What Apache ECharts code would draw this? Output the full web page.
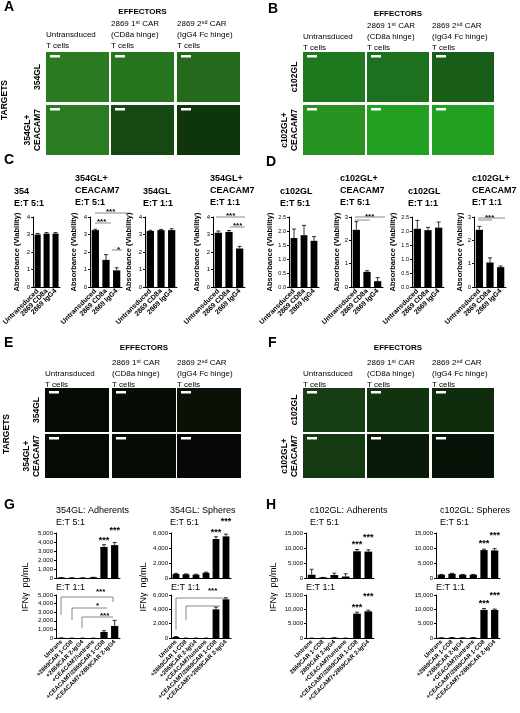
<!DOCTYPE html>
<html><head><meta charset="utf-8">
<script src="https://cdn.jsdelivr.net/npm/echarts@6/dist/echarts.min.js"></script>
<style>html,body{margin:0;background:#fff}#c{width:520px;height:713px}</style>
</head><body><div id="c"></div>
<script>
// 数据
const viabCats = ['Untransduced', '2869 CD8a', '2869 IgG4'];
const c1 = [3.0, 3.05, 3.05], c1e = [0.06, 0.06, 0.06];
const c2 = [3.25, 1.55, 0.95], c2e = [0.05, 0.3, 0.15];
const c3 = [3.2, 3.25, 3.25], c3e = [0.04, 0.04, 0.08];
const c4 = [3.1, 3.15, 2.2], c4e = [0.1, 0.08, 0.12];
const d1 = [1.75, 1.85, 1.65], d1e = [0.32, 0.35, 0.15];
const d2 = [2.45, 0.65, 0.25], d2e = [0.35, 0.05, 0.15];
const d3 = [2.08, 2.03, 2.12], d3e = [0.3, 0.1, 0.2];
const d4 = [2.45, 1.05, 0.85], d4e = [0.15, 0.2, 0.05];

const ifnCatsG = ['Untrans', '+2869CAR 1-CD8', '+2869CAR 2-IgG4', '+CEACAM7/untrans', '+CEACAM7/2869CAR 1-CD8', '+CEACAM7+2869CAR 2-IgG4'];
const ifnCatsH = ['Untrans', '2869CAR 1-CD8', '2869CAR 2-IgG4', '+CEACAM7/untrans', '+CEACAM7/2869CAR 1-CD8', '+CEACAM7+2869CAR 2-IgG4'];
const g1Top = [50, 30, 30, 80, 3450, 3650], g1TopE = [0, 0, 0, 0, 250, 300];
const g1Bot = [20, 0, 0, 0, 700, 1400], g1BotE = [0, 0, 0, 0, 150, 650];
const g2Top = [550, 500, 450, 700, 5200, 5550], g2TopE = [80, 50, 50, 80, 300, 300];
const g2Bot = [150, 0, 0, 0, 4000, 5400], g2BotE = [50, 0, 0, 0, 300, 200];
const h1Top = [1100, 200, 1000, 500, 8900, 8800], h1TopE = [1800, 0, 600, 900, 600, 600];
const h1Bot = [0, 0, 100, 0, 8500, 9300], h1BotE = [0, 0, 0, 0, 500, 400];
const h2Top = [1100, 1400, 1100, 1100, 9300, 9200], h2TopE = [100, 150, 100, 100, 300, 600];
const h2Bot = [100, 150, 100, 150, 9800, 9800], h2BotE = [0, 0, 0, 0, 500, 300];

const grids = [], xAxes = [], yAxes = [], series = [];
const fam = 'Arial, Liberation Sans, sans-serif';

function addChart(box, cats, vals, errs, max, interval, opt = {}) {
  const i = grids.length;
  grids.push({left: box[0], top: box[1], width: box[2], height: box[3]});
  xAxes.push({
    type: 'category', gridIndex: i, data: cats,
    axisLine: {show: true, lineStyle: {color: '#000'}}, axisTick: {show: false},
    axisLabel: {show: opt.xlabels !== false, rotate: 45, interval: 0, fontSize: opt.xfs || 7,
      fontWeight: 'bold', color: '#000', fontFamily: fam, margin: 3}
  });
  yAxes.push({
    type: 'value', gridIndex: i, min: 0, max: max, interval: interval,
    splitLine: {show: false}, axisLine: {show: true, lineStyle: {color: '#000'}},
    axisTick: {show: true, length: 2, lineStyle: {color: '#000'}},
    axisLabel: {fontSize: opt.yfs || 6, color: '#000', fontFamily: fam, margin: 3,
      formatter: v => opt.fmt ? opt.fmt(v) : v},
    name: opt.yname || '', nameLocation: 'middle', nameGap: opt.nameGap || 14,
    nameTextStyle: {fontSize: opt.nfs || 7.5, fontWeight: 'bold', color: '#000', fontFamily: fam}
  });
  series.push({
    type: 'bar', xAxisIndex: i, yAxisIndex: i, barWidth: '68%',
    itemStyle: {color: '#000'},
    data: vals.map((v, k) => ({value: v, label: opt.stars && opt.stars[k] ? {
      show: true, position: 'top', distance: opt.starGap ? opt.starGap[k] : 3,
      formatter: opt.stars[k], fontSize: 9, fontWeight: 'bold', color: '#000'} : undefined}))
  });
  series.push({
    type: 'custom', xAxisIndex: i, yAxisIndex: i, z: 5,
    data: vals.map((v, k) => [k, v, v + errs[k]]),
    renderItem: (params, api) => {
      const lo = api.coord([api.value(0), api.value(1)]);
      const hi = api.coord([api.value(0), api.value(2)]);
      const w = 2;
      const st = {stroke: '#000', lineWidth: 0.8};
      return {type: 'group', children: [
        {type: 'line', shape: {x1: lo[0], y1: lo[1], x2: hi[0], y2: hi[1]}, style: st},
        {type: 'line', shape: {x1: hi[0] - w, y1: hi[1], x2: hi[0] + w, y2: hi[1]}, style: st}
      ]};
    }
  });
}

// C / D 吸光度小图
const vy = 217, vh = 70;
const yn = 'Absorbance (Viability)';
addChart([32, vy, 28, vh], viabCats, c1, c1e, 4, 1, {yname: yn, nameGap: 12});
addChart([90, vy, 32, vh], viabCats, c2, c2e, 4, 1, {yname: yn, nameGap: 12});
addChart([145, vy, 32, vh], viabCats, c3, c3e, 4, 1, {yname: yn, nameGap: 12});
addChart([213, vy, 32, vh], viabCats, c4, c4e, 4, 1, {yname: yn, nameGap: 12});
const f1 = v => v.toFixed(1);
addChart([289, vy, 30, vh], viabCats, d1, d1e, 2.5, 0.5, {yname: yn, nameGap: 15, fmt: f1, yfs: 5.5});
addChart([351, vy, 32, vh], viabCats, d2, d2e, 3, 1, {yname: yn, nameGap: 10});
addChart([412, vy, 32, vh], viabCats, d3, d3e, 2.5, 0.5, {yname: yn, nameGap: 15, fmt: f1, yfs: 5.5});
addChart([474, vy, 32, vh], viabCats, d4, d4e, 3, 1, {yname: yn, nameGap: 10});

// G / H IFNγ
const k = v => v.toLocaleString('en-US');
const st2 = ['', '', '', '', '***', '***'];
const gap2 = [0, 0, 0, 0, 2, 10];
addChart([56, 533, 64, 45], ifnCatsG, g1Top, g1TopE, 5000, 1000, {fmt: k, xlabels: false, stars: st2, starGap: gap2});
addChart([56, 595, 64, 43], ifnCatsG, g1Bot, g1BotE, 5000, 1000, {fmt: k, xfs: 6});
addChart([171, 533, 60, 45], ifnCatsG, g2Top, g2TopE, 6000, 2000, {fmt: k, xlabels: false, stars: st2, starGap: gap2});
addChart([171, 595, 60, 43], ifnCatsG, g2Bot, g2BotE, 6000, 2000, {fmt: k, xfs: 6});
addChart([306, 533, 68, 45], ifnCatsH, h1Top, h1TopE, 15000, 5000, {fmt: k, xlabels: false, stars: st2, starGap: gap2});
addChart([306, 595, 68, 43], ifnCatsH, h1Bot, h1BotE, 15000, 5000, {fmt: k, xfs: 6, stars: st2, starGap: gap2});
addChart([436, 533, 64, 45], ifnCatsG, h2Top, h2TopE, 15000, 5000, {fmt: k, xlabels: false, stars: st2, starGap: gap2});
addChart([436, 595, 64, 43], ifnCatsG, h2Bot, h2BotE, 15000, 5000, {fmt: k, xfs: 6, stars: st2, starGap: gap2});

// 文字与显微图
const T = (x, y, text, o = {}) => ({type: 'text', x, y, rotation: o.rot || 0, style: {
  text, fill: '#000', font: `${o.bold === false ? '' : 'bold '}${o.fs || 9}px ${fam}`,
  textAlign: o.align || 'left', textVerticalAlign: o.va || 'top', lineHeight: o.lh || 11}});
const R = (x, y, w, h, color) => ({type: 'rect', shape: {x, y, width: w, height: h}, style: {fill: color}});
const bar = (x, y) => R(x + 4, y + 3, 10, 2.5, '#fff');
const el = [];
function imgPanel(letter, lx, xs, ws, ys, h, colors, rowLabels, colY, effY) {
  el.push(T(lx, effY - 4, letter, {fs: 14}));
  el.push(T(xs[1] + ws / 2, effY, 'EFFECTORS', {align: 'center', fs: 8}));
  el.push(T(xs[0], colY + 11, 'Untransduced\nT cells', {fs: 8, bold: false, lh: 11}));
  el.push(T(xs[1], colY, '2869 1ˢᵗ CAR\n(CD8a hinge)\nT cells', {fs: 8, bold: false, lh: 11}));
  el.push(T(xs[2], colY, '2869 2ⁿᵈ CAR\n(IgG4 Fc hinge)\nT cells', {fs: 8, bold: false, lh: 11}));
  ys.forEach((y, r) => {
    xs.forEach((x, c) => { el.push(R(x, y, ws, h, colors[r][c])); el.push(bar(x, y)); });
    el.push(T(xs[0] - 3, y + h / 2, rowLabels[r], {rot: Math.PI / 2, align: 'center', va: 'bottom', fs: 8.5, lh: 10}));
  });
}
imgPanel('A', 4, [46, 111, 177], 63, [52, 105], 50,
  [['#2a7a22', '#27751f', '#236a1d'], ['#2a7c22', '#154812', '#0f350d']],
  ['354GL', '354GL+\nCEACAM7'], 18, 6);
el.push(T(10, 100, 'TARGETS', {rot: Math.PI / 2, align: 'center', va: 'bottom', fs: 8.5}));
imgPanel('B', 268, [303, 367, 432], 62, [52, 105], 50,
  [['#1f7a1f', '#1d701d', '#185e18'], ['#27921f', '#22a022', '#22a022']],
  ['c102GL', 'c102GL+\nCEACAM7'], 20, 8);
imgPanel('E', 4, [45, 112, 177], 64, [388, 434], 44,
  [['#050a05', '#070d06', '#0a1208'], ['#050a05', '#060b05', '#050805']],
  ['354GL', '354GL+\nCEACAM7'], 357, 342);
el.push(T(12, 434, 'TARGETS', {rot: Math.PI / 2, align: 'center', va: 'bottom', fs: 8.5}));
imgPanel('F', 268, [303, 367, 432], 62, [388, 434], 44,
  [['#163d14', '#12330f', '#0f2c0d'], ['#153a12', '#0a1a0a', '#071207']],
  ['c102GL', 'c102GL+\nCEACAM7'], 357, 342);
el.push(T(4, 155, 'C', {fs: 14}), T(266, 157, 'D', {fs: 14}), T(4, 500, 'G', {fs: 14}), T(266, 500, 'H', {fs: 14}));

// C/D titles
[[14, '354\nE:T 5:1', 186], [75, '354GL+\nCEACAM7\nE:T 5:1', 173], [143, '354GL\nE:T 1:1', 186], [210, '354GL+\nCEACAM7\nE:T 1:1', 173],
 [280, 'c102GL\nE:T 5:1', 186], [340, 'c102GL+\nCEACAM7\nE:T 5:1', 173], [408, 'c102GL\nE:T 1:1', 186], [472, 'c102GL+\nCEACAM7\nE:T 1:1', 173]]
  .forEach(t => el.push(T(t[0], t[2], t[1], {fs: 9, lh: 12})));
// significance
el.push(T(106, 206, '***', {fs: 8}), T(97, 216, '***', {fs: 8}), T(117, 244, '*', {fs: 8}),
  T(226, 210, '***', {fs: 8}), T(233, 220, '***', {fs: 8}), T(365, 211, '***', {fs: 8}), T(485, 212, '***', {fs: 8}));
const ln = (x1, y1, x2, y2) => ({type: 'line', shape: {x1, y1, x2, y2}, style: {stroke: '#555', lineWidth: 0.7}});
el.push(ln(95, 213, 130, 213), ln(95, 223, 111, 223), ln(112, 250, 122, 250),
  ln(216, 217, 245, 217), ln(230, 227, 245, 227), ln(355, 217, 385, 217), ln(355, 220, 370, 220),
  ln(478, 218, 505, 218), ln(478, 220, 492, 220));
// G/H titles
el.push(T(56, 505, '354GL: Adherents\nE:T 5:1', {fs: 9, bold: false, lh: 12}),
  T(170, 505, '354GL: Spheres\nE:T 5:1', {fs: 9, bold: false, lh: 12}),
  T(310, 505, 'c102GL: Adherents\nE:T 5:1', {fs: 9, bold: false, lh: 12}),
  T(440, 505, 'c102GL: Spheres\nE:T 5:1', {fs: 9, bold: false, lh: 12}),
  T(56, 582, 'E:T 1:1', {fs: 9, bold: false}), T(171, 582, 'E:T 1:1', {fs: 9, bold: false}),
  T(306, 582, 'E:T 1:1', {fs: 9, bold: false}), T(436, 582, 'E:T 1:1', {fs: 9, bold: false}),
  T(96, 586, '***', {fs: 8}), T(96, 600, '*', {fs: 8}), T(100, 610, '***', {fs: 8}), T(208, 585, '***', {fs: 8}),
  T(20, 587, 'IFNγ  pg/mL', {rot: Math.PI / 2, align: 'center', va: 'top', fs: 9, bold: false}),
  T(138, 587, 'IFNγ  ng/mL', {rot: Math.PI / 2, align: 'center', va: 'top', fs: 9, bold: false}),
  T(268, 587, 'IFNγ  pg/mL', {rot: Math.PI / 2, align: 'center', va: 'top', fs: 9, bold: false}));
el.push(ln(61, 597, 61, 615), ln(61, 597, 113, 597), ln(113, 597, 113, 602),
  ln(72, 608, 72, 620), ln(72, 608, 107, 608), ln(82, 617, 82, 628), ln(82, 617, 113, 617),
  ln(176, 598, 176, 630), ln(176, 598, 226, 598), ln(186, 606, 186, 620), ln(186, 606, 220, 606));

const chart = echarts.init(document.getElementById('c'));
chart.setOption({
  animation: false,
  textStyle: {fontFamily: fam},
  grid: grids, xAxis: xAxes, yAxis: yAxes, series: series,
  graphic: {elements: el}
});
</script></body></html>
